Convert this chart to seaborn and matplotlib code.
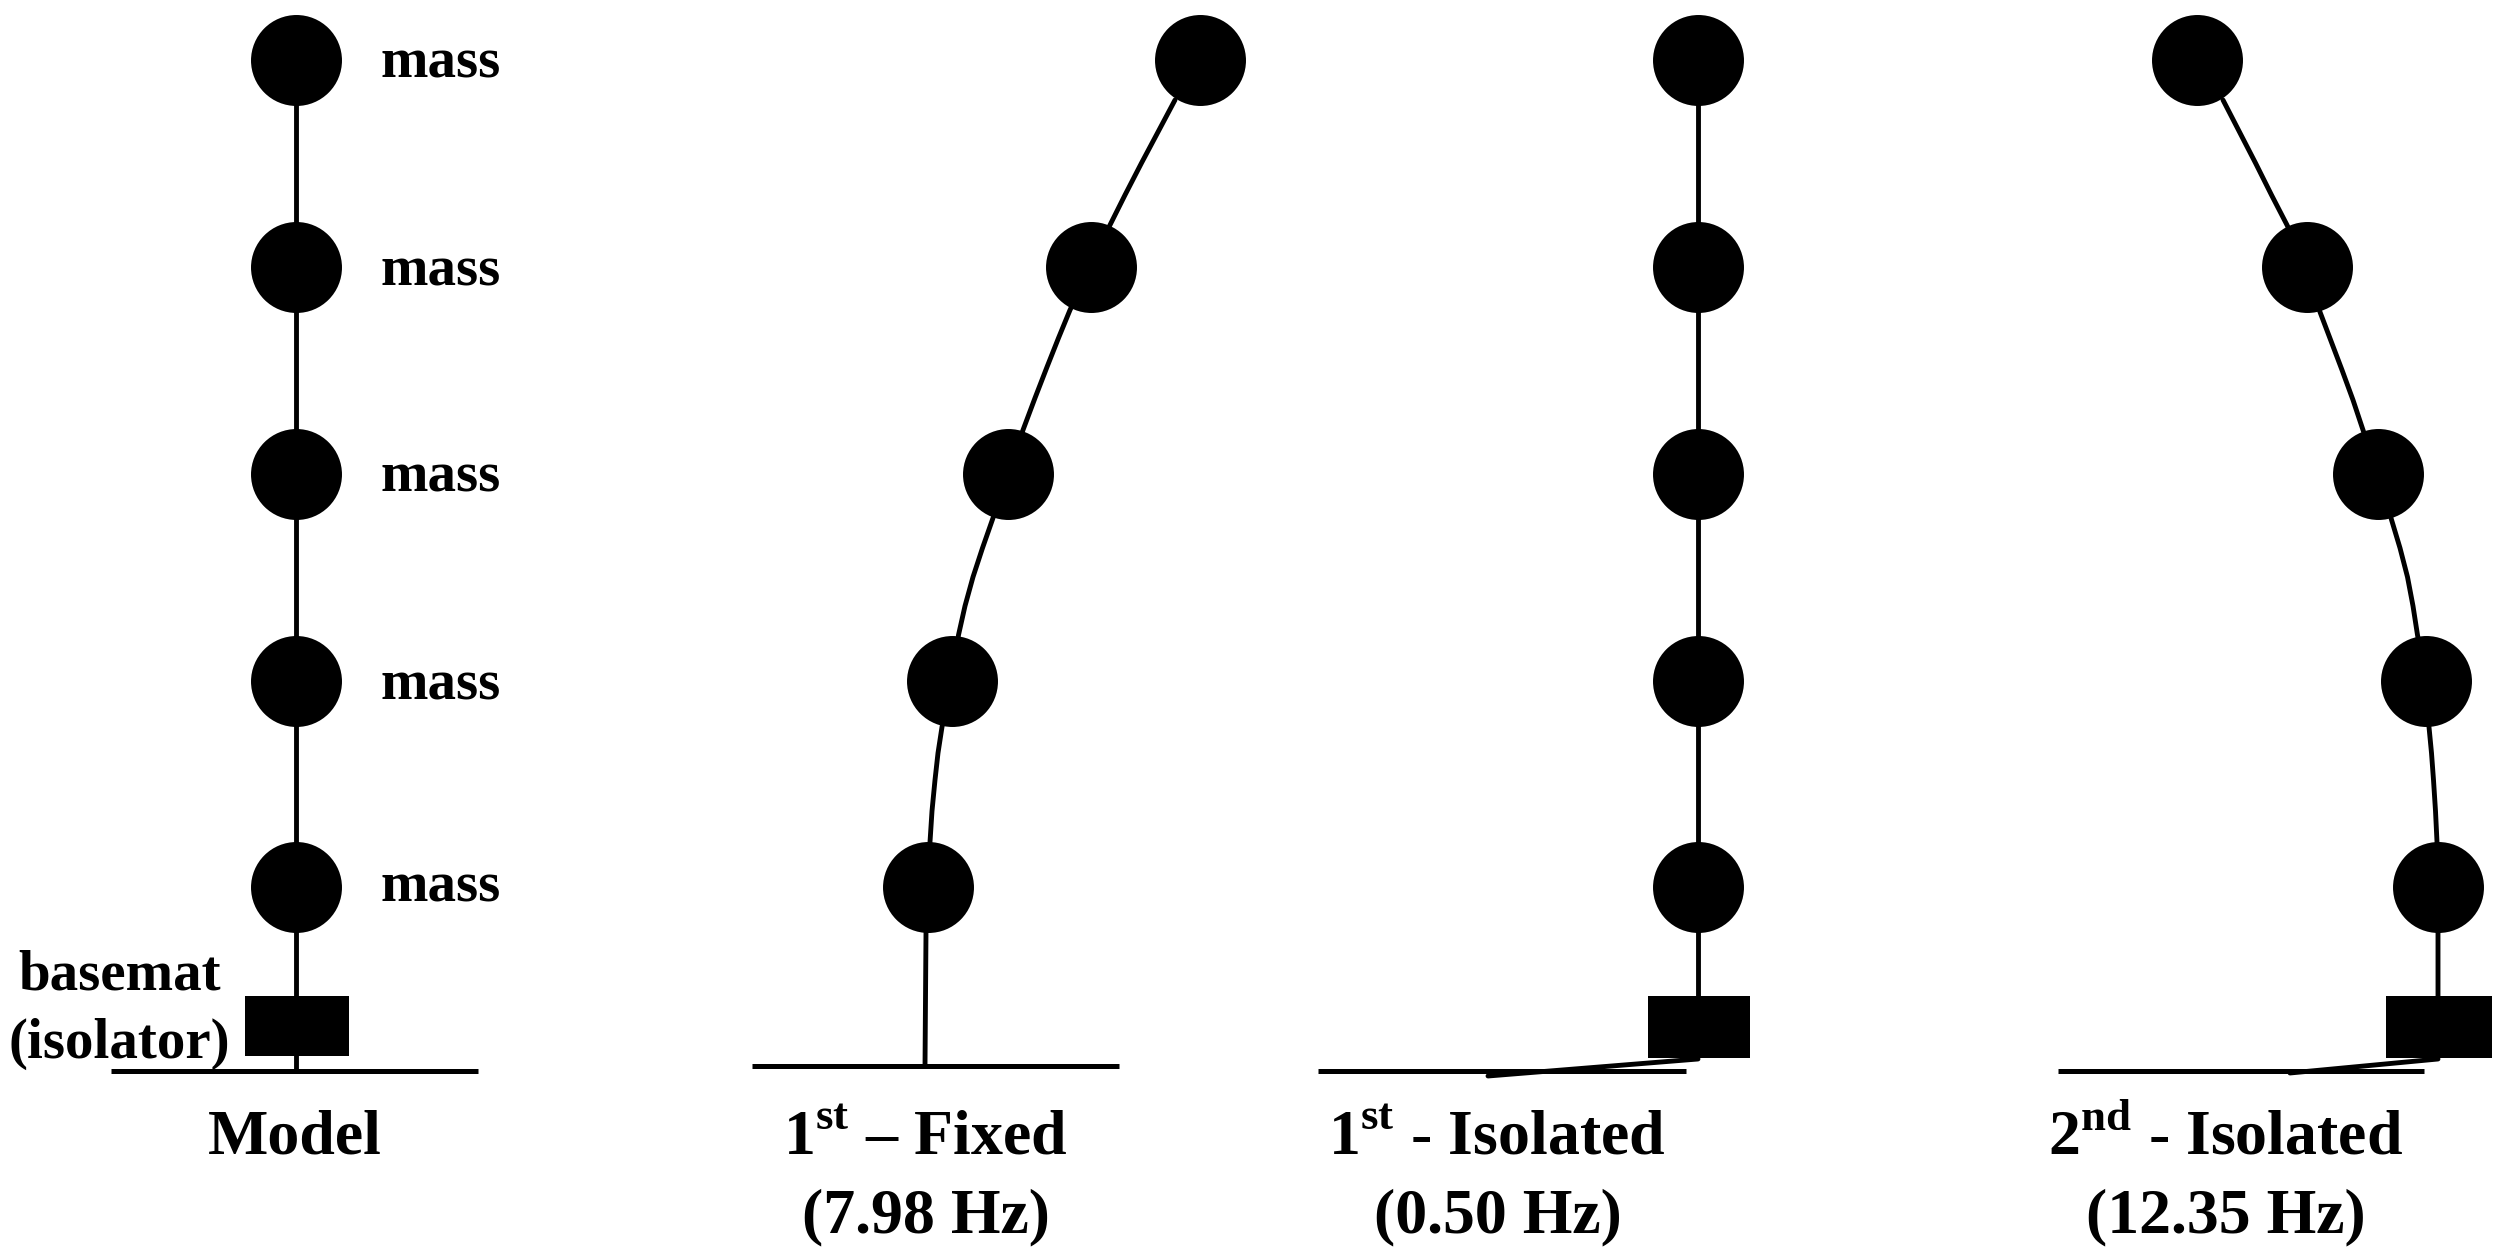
"""Mode shapes of the lumped mass stick model, fixed and isolated."""
import matplotlib
matplotlib.use("Agg")
import matplotlib.pyplot as plt
import seaborn as sns

WIDTH, HEIGHT = 2504, 1258
BLACK = "#000000"

mass_y = [60, 267, 474, 681, 887]
model_mass_x = [296, 296, 296, 296, 296]
fixed_mass_x = [1200, 1091, 1008, 952, 928]
iso1_mass_x = [1698, 1698, 1698, 1698, 1698]
iso2_mass_x = [2197, 2307, 2378, 2426, 2438]

# stick lines, including the bend seen between the masses
model_line_x = [296, 296]
model_line_y = [60, 1071]
fixed_line_x = [1175, 1158, 1141.5, 1125, 1109, 1091, 1070, 1058.5, 1047, 1035, 1023, 1008,
                993, 982.5, 973, 965, 958.5, 952, 942, 938, 935, 932, 930, 928, 926, 925]
fixed_line_y = [100, 132, 163, 195, 227, 267, 310, 338, 367, 398, 430, 474,
                518, 548, 577, 606, 635, 681, 727, 753, 780, 811, 842, 887, 932, 1066]
iso1_line_x = [1698, 1698]
iso1_line_y = [60, 1000]
iso2_line_x = [2223, 2239.5, 2255.5, 2271.5, 2287, 2307, 2320, 2331, 2342, 2353, 2363, 2378,
               2391, 2400, 2407.5, 2413, 2417.5, 2426, 2429, 2431.5, 2433.5, 2435.5, 2437, 2438, 2438]
iso2_line_y = [100, 132, 163, 195, 225, 267, 312, 341, 370, 400, 430, 473,
               518, 548, 577, 606, 635, 681, 727, 753, 780, 811, 842, 887, 1000]

# isolator links running from the basemat down to the ground
iso1_link_x = [1698, 1488]
iso1_link_y = [1059, 1076]
iso2_link_x = [2438, 2290]
iso2_link_y = [1059, 1073]

# ground lines
ground_left = [111, 752, 1318, 2058]
ground_right = [478, 1119, 1686, 2424]
ground_y = [1071, 1066, 1071, 1071]

# basemat blocks
base_left = [245, 1648, 2386]
base_right = [349, 1750, 2492]
base_top = [996, 996, 996]
base_bottom = [1056, 1058, 1058]

mass_label_y = [78, 285, 491, 699, 901]
panel_titles = ["Model", "1$^{\\mathrm{st}}$ – Fixed", "1$^{\\mathrm{st}}$ - Isolated", "2$^{\\mathrm{nd}}$ - Isolated"]
panel_title_x = [295, 925, 1497, 2226]
panel_freqs = ["", "(7.98 Hz)", "(0.50 Hz)", "(12.35 Hz)"]
panel_freq_x = [295, 926, 1498, 2226]

sns.set_theme(style="white")
plt.rcParams["font.family"] = ["Liberation Serif", "DejaVu Serif"]
plt.rcParams["font.weight"] = "bold"
plt.rcParams["text.color"] = BLACK
plt.rcParams["mathtext.fontset"] = "custom"
plt.rcParams["mathtext.rm"] = "Liberation Serif:bold"

fig = plt.figure(figsize=(WIDTH / 100, HEIGHT / 100), dpi=100, facecolor="white")
ax = fig.add_axes([0, 0, 1, 1])

line_kw = dict(color=BLACK, estimator=None, sort=False, linewidth=3.5, legend=False, ax=ax)
for xs, ys in [
    (model_line_x, model_line_y),
    (fixed_line_x, fixed_line_y),
    (iso1_line_x, iso1_line_y),
    (iso2_line_x, iso2_line_y),
    (iso1_link_x, iso1_link_y),
    (iso2_link_x, iso2_link_y),
]:
    sns.lineplot(x=xs, y=ys, **line_kw)

for left, right, y in zip(ground_left, ground_right, ground_y):
    sns.lineplot(x=[left, right], y=[y, y], color=BLACK, estimator=None, sort=False,
                 linewidth=3.6, solid_capstyle="butt", legend=False, ax=ax)

for xs in [model_mass_x, fixed_mass_x, iso1_mass_x, iso2_mass_x]:
    # 91 px across at dpi 100
    sns.scatterplot(x=xs, y=mass_y, s=65.5 ** 2, color=BLACK, linewidth=0, legend=False, ax=ax, zorder=3)

ax.bar(base_left, [b - t for t, b in zip(base_top, base_bottom)], width=[r - l for l, r in zip(base_left, base_right)],
       bottom=base_top, align="edge", color=BLACK, linewidth=0, zorder=3)

for y in mass_label_y:
    ax.text(381, y, "mass", fontsize=41, ha="left", va="baseline")
ax.text(120, 990, "basemat", fontsize=41, ha="center", va="baseline")
ax.text(119, 1058, "(isolator)", fontsize=41, ha="center", va="baseline")

for x, title in zip(panel_title_x, panel_titles):
    ax.text(x, 1154, title, fontsize=46, ha="center", va="baseline")
for x, freq in zip(panel_freq_x, panel_freqs):
    if freq:
        ax.text(x, 1232, freq, fontsize=46, ha="center", va="baseline")

ax.set_xlim(0, WIDTH)
ax.set_ylim(HEIGHT, 0)
ax.axis("off")

fig.savefig("out.png", dpi=100, facecolor="white")
plt.close(fig)
